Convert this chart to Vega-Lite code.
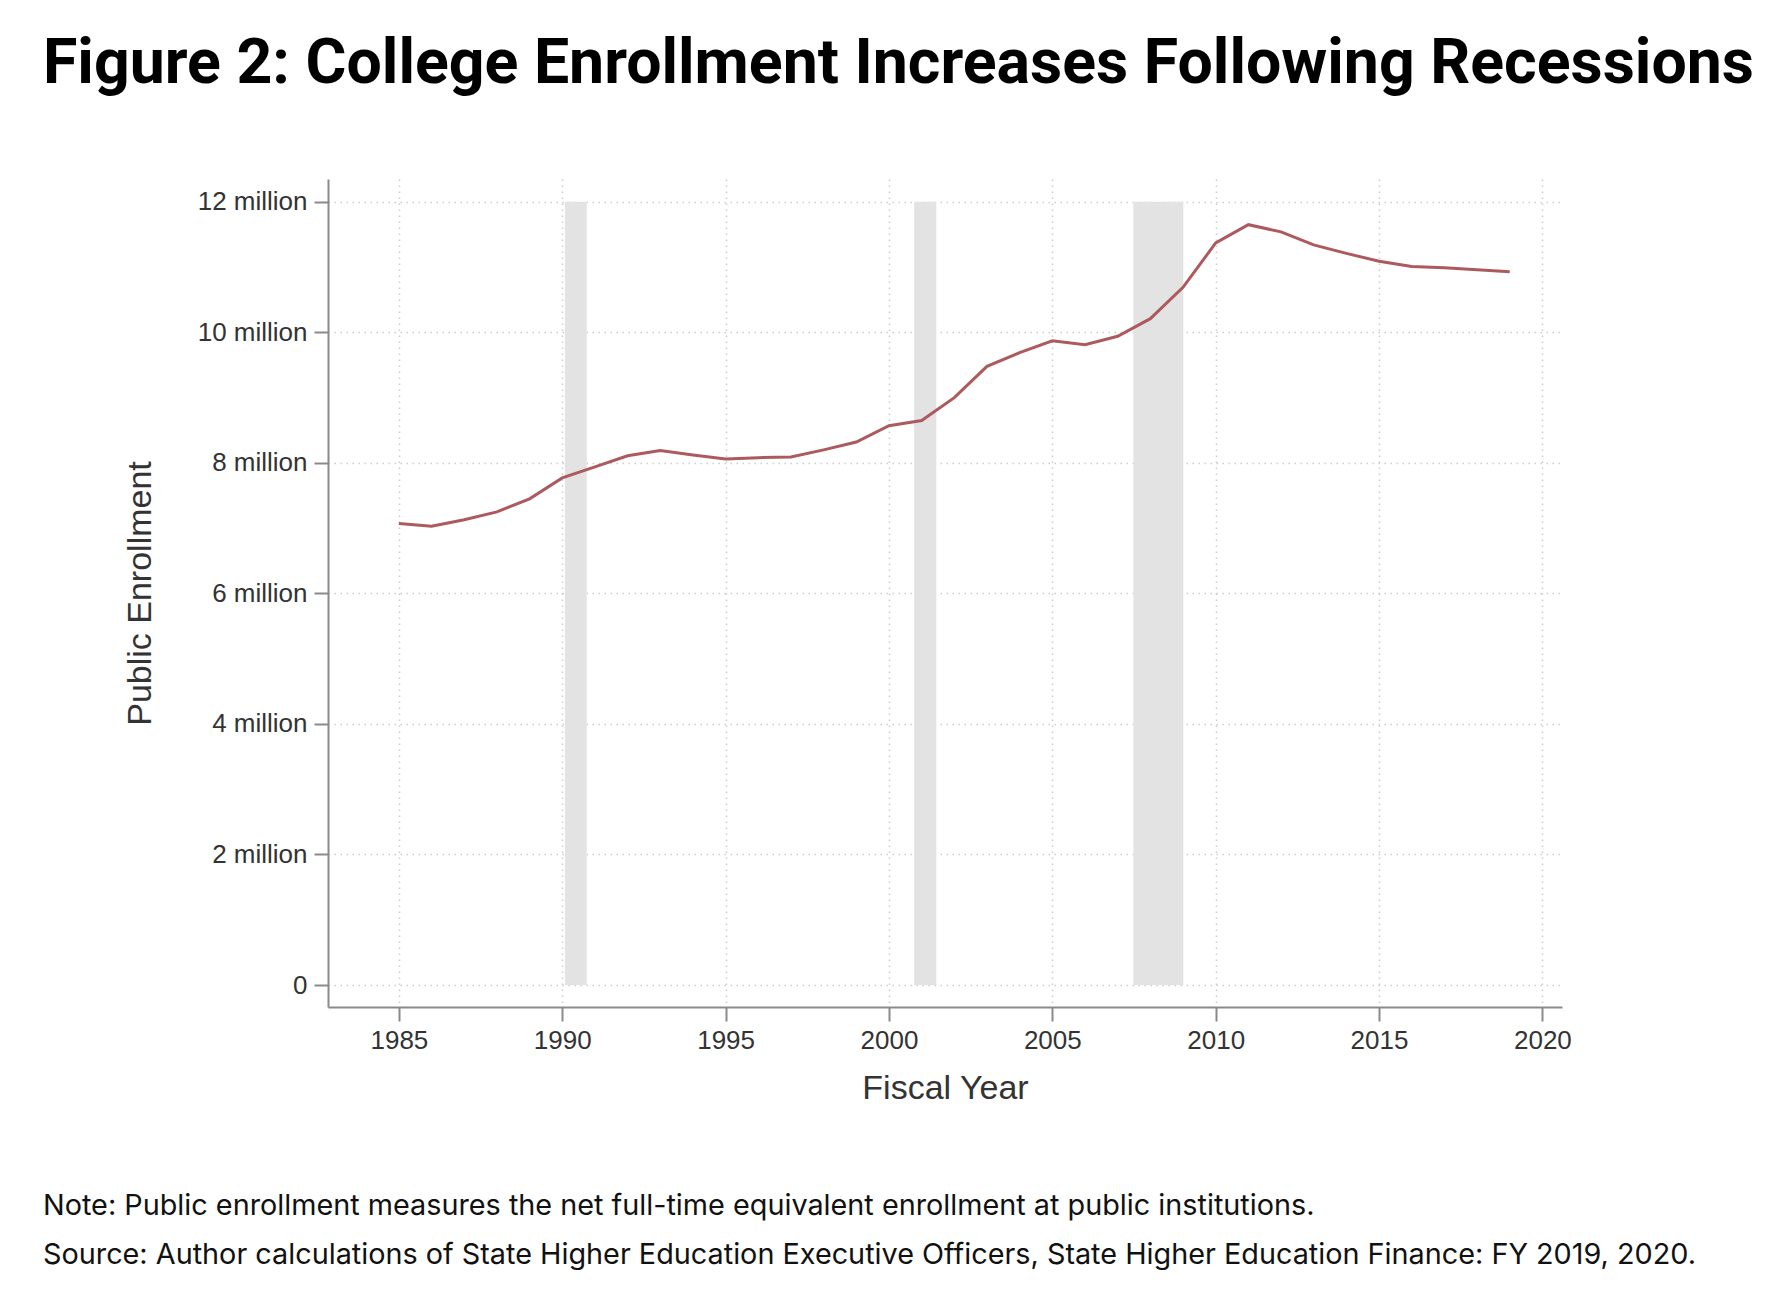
{
  "$schema": "https://vega.github.io/schema/vega-lite/v6.json",
  "background": "white",
  "padding": {"left": 43, "top": 33, "right": 0, "bottom": 0},
  "datasets": {
    "enrollment": [
      {"year": 1985, "fte": 7.07},
      {"year": 1986, "fte": 7.03},
      {"year": 1987, "fte": 7.13},
      {"year": 1988, "fte": 7.25},
      {"year": 1989, "fte": 7.45},
      {"year": 1990, "fte": 7.77},
      {"year": 1991, "fte": 7.94},
      {"year": 1992, "fte": 8.11},
      {"year": 1993, "fte": 8.19},
      {"year": 1994, "fte": 8.12},
      {"year": 1995, "fte": 8.06},
      {"year": 1996, "fte": 8.08},
      {"year": 1997, "fte": 8.09},
      {"year": 1998, "fte": 8.2},
      {"year": 1999, "fte": 8.32},
      {"year": 2000, "fte": 8.57},
      {"year": 2001, "fte": 8.65},
      {"year": 2002, "fte": 9.0},
      {"year": 2003, "fte": 9.48},
      {"year": 2004, "fte": 9.69},
      {"year": 2005, "fte": 9.87},
      {"year": 2006, "fte": 9.81},
      {"year": 2007, "fte": 9.94},
      {"year": 2008, "fte": 10.21},
      {"year": 2009, "fte": 10.69},
      {"year": 2010, "fte": 11.37},
      {"year": 2011, "fte": 11.65},
      {"year": 2012, "fte": 11.54},
      {"year": 2013, "fte": 11.34},
      {"year": 2014, "fte": 11.21},
      {"year": 2015, "fte": 11.09},
      {"year": 2016, "fte": 11.01},
      {"year": 2017, "fte": 10.99},
      {"year": 2018, "fte": 10.96},
      {"year": 2019, "fte": 10.93}
    ],
    "recessions": [
      {"start": 1990.08, "end": 1990.75},
      {"start": 2000.77, "end": 2001.45},
      {"start": 2007.48, "end": 2009.01}
    ]
  },
  "title": {
    "text": "Figure 2: College Enrollment Increases Following Recessions",
    "anchor": "start",
    "frame": "group",
    "dx": -285,
    "font": "Roboto",
    "fontWeight": "bold",
    "fontSize": 62.6,
    "color": "#000000",
    "offset": 82
  },
  "vconcat": [
    {
      "width": 1234,
      "height": 828,
      "title": {
        "text": [
          "Note: Public enrollment measures the net full-time equivalent enrollment at public institutions.",
          "Source: Author calculations of State Higher Education Executive Officers, State Higher Education Finance: FY 2019, 2020."
        ],
        "orient": "bottom",
        "anchor": "start",
        "frame": "group",
        "dx": -285,
        "font": "Inter",
        "fontWeight": "normal",
        "fontSize": 28.8,
        "lineHeight": 49,
        "color": "#111111",
        "offset": 87
      },
      "layer": [
        {
          "data": {"name": "recessions"},
          "mark": {"type": "rect", "color": "#e3e3e3"},
          "encoding": {
            "x": {"field": "start", "type": "quantitative",
                  "scale": {"domain": [1982.83, 2020.6], "nice": false, "zero": false}},
            "x2": {"field": "end"},
            "y": {"datum": 0, "type": "quantitative",
                  "scale": {"domain": [-0.337, 12.35], "nice": false, "zero": false}},
            "y2": {"datum": 12}
          }
        },
        {
          "data": {"name": "enrollment"},
          "mark": {"type": "line", "color": "#ad5a5e", "strokeWidth": 3},
          "encoding": {
            "x": {
              "field": "year", "type": "quantitative",
              "scale": {"domain": [1982.83, 2020.6], "nice": false, "zero": false},
              "axis": {
                "title": "Fiscal Year",
                "values": [1985, 1990, 1995, 2000, 2005, 2010, 2015, 2020],
                "format": "d",
                "labelPadding": 6,
                "titlePadding": 18
              }
            },
            "y": {
              "field": "fte", "type": "quantitative",
              "scale": {"domain": [-0.337, 12.35], "nice": false, "zero": false},
              "axis": {
                "title": "Public Enrollment",
                "values": [0, 2, 4, 6, 8, 10, 12],
                "labelExpr": "datum.value == 0 ? '0' : datum.value + ' million'",
                "labelPadding": 7,
                "titlePadding": 40
              }
            }
          }
        }
      ]
    }
  ],
  "config": {
    "view": {"stroke": null},
    "axis": {
      "grid": true,
      "gridColor": "#cccccc",
      "gridDash": [1.5, 4.5],
      "gridWidth": 1.5,
      "domainColor": "#8a8a8a",
      "domainWidth": 2,
      "tickColor": "#8a8a8a",
      "tickWidth": 2,
      "tickSize": 14,
      "labelFont": "Liberation Sans",
      "labelFontSize": 26,
      "labelColor": "#333333",
      "titleFont": "Liberation Sans",
      "titleFontSize": 34,
      "titleFontWeight": "normal",
      "titleColor": "#333333"
    }
  }
}
